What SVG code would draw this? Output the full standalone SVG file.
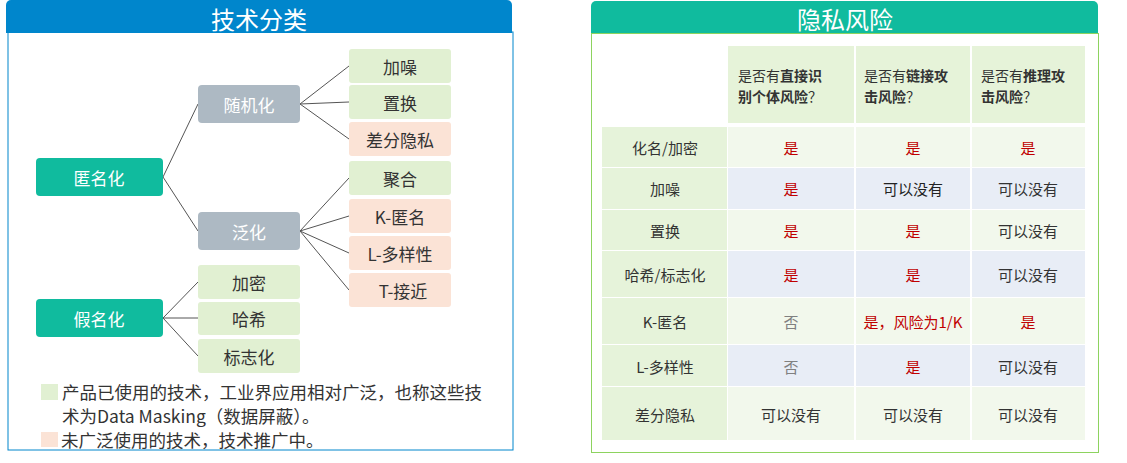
<svg xmlns="http://www.w3.org/2000/svg" width="1127" height="463" viewBox="0 0 1127 463">
<style>
text{font-family:"Noto Sans CJK SC","Noto Sans",sans-serif;text-anchor:middle;dominant-baseline:central}
.hd{fill:#fff;font-size:24px}
.n{font-size:17px;fill:#333}
.w{fill:#fff}
.g{fill:#e1f0d2}.p{fill:#fbe3d6}.gy{fill:#adb9c3}.t{fill:#10bb9e}
.c line{stroke:#555;stroke-width:1}
.tl{font-size:15px;fill:#333}
.r{fill:#c00000}.no{fill:#808080}.k{fill:#222}
.lc{fill:#e6f3da}.ra{fill:#f2f8ec}.rb{fill:#e8edf6}
.lg{font-size:17.5px;fill:#333;text-anchor:start}
</style>
<rect x="6" y="0" width="506" height="33" rx="5" fill="#0086cc"/>
<rect x="6" y="20" width="506" height="13" fill="#0086cc"/>
<text class="hd" x="259" y="18">技术分类</text>
<rect x="8" y="32" width="505" height="418" fill="none" stroke="#0086cc" stroke-width="1"/>
<g class="c">
<line x1="163" y1="177" x2="198" y2="104"/><line x1="163" y1="177" x2="198" y2="231"/>
<line x1="163" y1="318" x2="198" y2="282"/><line x1="163" y1="318" x2="198" y2="318"/><line x1="163" y1="318" x2="198" y2="356"/>
<line x1="300" y1="104" x2="349" y2="66"/><line x1="300" y1="104" x2="349" y2="102"/><line x1="300" y1="104" x2="349" y2="139"/>
<line x1="300" y1="231" x2="349" y2="178"/><line x1="300" y1="231" x2="349" y2="216"/><line x1="300" y1="231" x2="349" y2="253"/><line x1="300" y1="231" x2="349" y2="290"/>
</g>
<g id="n1"><rect class="t" x="36" y="158" width="127" height="38" rx="4"/><text class="n w" x="99" y="177">匿名化</text></g>
<g id="n2"><rect class="t" x="36" y="299" width="127" height="38" rx="4"/><text class="n w" x="99" y="318">假名化</text></g>
<g id="n3"><rect class="gy" x="198" y="85" width="102" height="38" rx="4"/><text class="n w" x="249" y="104">随机化</text></g>
<g id="n4"><rect class="gy" x="198" y="212" width="102" height="38" rx="4"/><text class="n w" x="249" y="231">泛化</text></g>
<g id="n5"><rect class="g" x="198" y="265" width="102" height="34" rx="3"/><text class="n" x="249" y="282">加密</text></g>
<g id="n6"><rect class="g" x="198" y="302" width="102" height="33" rx="3"/><text class="n" x="249" y="318">哈希</text></g>
<g id="n7"><rect class="g" x="198" y="339" width="102" height="34" rx="3"/><text class="n" x="249" y="356">标志化</text></g>
<g id="n8"><rect class="g" x="349" y="49" width="102" height="34" rx="3"/><text class="n" x="400" y="66">加噪</text></g>
<g id="n9"><rect class="g" x="349" y="85" width="102" height="34" rx="3"/><text class="n" x="400" y="102">置换</text></g>
<g id="n10"><rect class="p" x="349" y="122" width="102" height="34" rx="3"/><text class="n" x="400" y="139">差分隐私</text></g>
<g id="n11"><rect class="g" x="349" y="161" width="102" height="34" rx="3"/><text class="n" x="400" y="178">聚合</text></g>
<g id="n12"><rect class="p" x="349" y="199" width="102" height="34" rx="3"/><text class="n" x="400" y="216">K-匿名</text></g>
<g id="n13"><rect class="p" x="349" y="236" width="102" height="34" rx="3"/><text class="n" x="400" y="253">L-多样性</text></g>
<g id="n14"><rect class="p" x="349" y="273" width="102" height="34" rx="3"/><text class="n" x="403" y="290">T-接近</text></g>
<rect class="g" x="41" y="384" width="17" height="16"/>
<text class="lg" x="62" y="391">产品已使用的技术，工业界应用相对广泛，也称这些技</text>
<text class="lg" x="62" y="415">术为Data Masking（数据屏蔽）。</text>
<rect class="p" x="41" y="432" width="17" height="15"/>
<text class="lg" x="61" y="439">未广泛使用的技术，技术推广中。</text>

<rect x="591" y="1" width="507" height="33" rx="5" fill="#10bb9e"/>
<rect x="591" y="20" width="507" height="14" fill="#10bb9e"/>
<text class="hd" x="845" y="18">隐私风险</text>
<rect x="591.5" y="33.5" width="507" height="419" fill="none" stroke="#8dd35f" stroke-width="1"/>
<g fill="#e6f3d9"><rect x="728" y="46" width="126" height="77"/><rect x="856" y="46" width="114" height="77"/><rect x="972" y="46" width="113" height="77"/></g>
<g font-size="14" fill="#333">
<text x="738" y="75" style="text-anchor:start">是否有<tspan font-weight="bold">直接识</tspan></text>
<text x="738" y="96" style="text-anchor:start"><tspan font-weight="bold">别个体风险</tspan>？</text>
<text x="864" y="75" style="text-anchor:start">是否有<tspan font-weight="bold">链接攻</tspan></text>
<text x="864" y="96" style="text-anchor:start"><tspan font-weight="bold">击风险</tspan>？</text>
<text x="981" y="75" style="text-anchor:start">是否有<tspan font-weight="bold">推理攻</tspan></text>
<text x="981" y="96" style="text-anchor:start"><tspan font-weight="bold">击风险</tspan>？</text>
</g>
<g>
<rect class="lc" x="602" y="127" width="125" height="40"/><rect class="ra" x="728" y="127" width="126" height="40"/><rect class="ra" x="856" y="127" width="114" height="40"/><rect class="ra" x="972" y="127" width="113" height="40"/>
<rect class="lc" x="602" y="168" width="125" height="41"/><rect class="rb" x="728" y="168" width="126" height="41"/><rect class="rb" x="856" y="168" width="114" height="41"/><rect class="rb" x="972" y="168" width="113" height="41"/>
<rect class="lc" x="602" y="210" width="125" height="40"/><rect class="ra" x="728" y="210" width="126" height="40"/><rect class="ra" x="856" y="210" width="114" height="40"/><rect class="ra" x="972" y="210" width="113" height="40"/>
<rect class="lc" x="602" y="251" width="125" height="46"/><rect class="rb" x="728" y="251" width="126" height="46"/><rect class="rb" x="856" y="251" width="114" height="46"/><rect class="rb" x="972" y="251" width="113" height="46"/>
<rect class="lc" x="602" y="298" width="125" height="46"/><rect class="ra" x="728" y="298" width="126" height="46"/><rect class="ra" x="856" y="298" width="114" height="46"/><rect class="ra" x="972" y="298" width="113" height="46"/>
<rect class="lc" x="602" y="345" width="125" height="41"/><rect class="rb" x="728" y="345" width="126" height="41"/><rect class="rb" x="856" y="345" width="114" height="41"/><rect class="rb" x="972" y="345" width="113" height="41"/>
<rect class="lc" x="602" y="387" width="125" height="53"/><rect class="ra" x="728" y="387" width="126" height="53"/><rect class="ra" x="856" y="387" width="114" height="53"/><rect class="ra" x="972" y="387" width="113" height="53"/>
</g>
<g>
<text class="tl" x="665" y="147">化名/加密</text><text class="tl r" x="791" y="147">是</text><text class="tl r" x="913" y="147">是</text><text class="tl r" x="1028" y="147">是</text>
<text class="tl" x="665" y="188">加噪</text><text class="tl r" x="791" y="188">是</text><text class="tl k" x="913" y="188">可以没有</text><text class="tl" x="1028" y="188">可以没有</text>
<text class="tl" x="665" y="230">置换</text><text class="tl r" x="791" y="230">是</text><text class="tl r" x="913" y="230">是</text><text class="tl" x="1028" y="230">可以没有</text>
<text class="tl" x="665" y="274">哈希/标志化</text><text class="tl r" x="791" y="274">是</text><text class="tl r" x="913" y="274">是</text><text class="tl" x="1028" y="274">可以没有</text>
<text class="tl" x="665" y="321">K-匿名</text><text class="tl no" x="791" y="321">否</text><text class="tl r" x="913" y="321">是，风险为1/K</text><text class="tl r" x="1028" y="321">是</text>
<text class="tl" x="665" y="366">L-多样性</text><text class="tl no" x="791" y="366">否</text><text class="tl r" x="913" y="366">是</text><text class="tl" x="1028" y="366">可以没有</text>
<text class="tl" x="665" y="414">差分隐私</text><text class="tl" x="791" y="414">可以没有</text><text class="tl" x="913" y="414">可以没有</text><text class="tl" x="1028" y="414">可以没有</text>
</g>
</svg>
